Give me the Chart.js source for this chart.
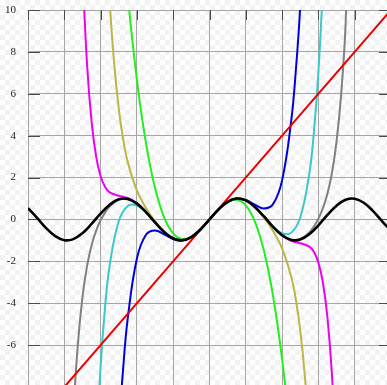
<!DOCTYPE html>
<html>
<head>
<meta charset="utf-8">
<script src="https://cdn.jsdelivr.net/npm/chart.js@4/dist/chart.umd.min.js"></script>
<style>
html,body{margin:0;padding:0;overflow:hidden;width:387px;height:385px;}
body{background-color:#fff;background-image:
 linear-gradient(45deg,#f2f2f2 25%,transparent 25%,transparent 75%,#f2f2f2 75%),
 linear-gradient(45deg,#f2f2f2 25%,transparent 25%,transparent 75%,#f2f2f2 75%);
 background-size:10px 10px;background-position:0 0,5px 5px;}
canvas{display:block;}
</style>
</head>
<body>
<canvas id="c" width="391" height="387"></canvas>
<script>
// tick labels on the y axis
const yTickValues = [10, 8, 6, 4, 2, 0, -2, -4, -6];

// black curve
const sinX = [-10,-9.5,-9,-8.5,-8,-7.5,-7,-6.5,-6,-5.5,-5,-4.5,-4,-3.5,-3,-2.5,-2,-1.5,-1,-0.5,0,0.5,1,1.5,2,2.5,3,3.5,4,4.5,5,5.5,6,6.5,7,7.5,8,8.5,9,9.5,10];
const sinY = [0.544,0.075,-0.412,-0.798,-0.989,-0.938,-0.657,-0.215,0.279,0.706,0.959,0.978,0.757,0.351,-0.141,-0.598,-0.909,-0.997,-0.841,-0.479,0,0.479,0.841,0.997,0.909,0.598,0.141,-0.351,-0.757,-0.978,-0.959,-0.706,-0.279,0.215,0.657,0.938,0.989,0.798,0.412,-0.075,-0.544];

// red line
const p1X = [-10, 10];
const p1Y = [-10, 10];

// green curve
const p3X = [-5,-4.5,-4,-3.5,-3,-2.5,-2,-1.5,-1,-0.5,0,0.5,1,1.5,2,2.5,3,3.5,4,4.5,5];
const p3Y = [15.833,10.688,6.667,3.646,1.5,0.104,-0.667,-0.938,-0.833,-0.479,0,0.479,0.833,0.938,0.667,-0.104,-1.5,-3.646,-6.667,-10.688,-15.833];

// blue curve
const p5X = [-5.5,-5,-4.75,-4.5,-4,-3.5,-3,-2.5,-2,-1.5,-1,-0.5,0,0.5,1,1.5,2,2.5,3,3.5,4,4.5,4.75,5,5.5];
const p5Y = [-19.711,-10.208,-7.039,-4.69,-1.867,-0.731,-0.525,-0.71,-0.933,-1.001,-0.842,-0.479,0,0.479,0.842,1.001,0.933,0.71,0.525,0.731,1.867,4.69,7.039,10.208,19.711];

// olive curve
const p7X = [-6,-5.5,-5.25,-5,-4.75,-4.5,-4,-3.5,-3,-2.5,-2,-1.5,-1,-0.5,0,0.5,1,1.5,2,2.5,3,3.5,4,4.5,4.75,5,5.25,5.5,6];
const p7Y = [20.743,10.496,7.442,5.293,3.786,2.725,1.384,0.546,-0.091,-0.589,-0.908,-0.997,-0.841,-0.479,0,0.479,0.841,0.997,0.908,0.589,0.091,-0.546,-1.384,-2.725,-3.786,-5.293,-7.442,-10.496,-20.743];

// cyan curve
const p9X = [-6.5,-6.25,-6,-5.75,-5.5,-5,-4.5,-4,-3.5,-3,-2.5,-2,-1.5,-1,-0.5,0,0.5,1,1.5,2,2.5,3,3.5,4,4.5,5,5.5,5.75,6,6.25,6.5];
const p9Y = [-17.23,-11.219,-7.028,-4.145,-2.195,-0.09,0.639,0.662,0.328,-0.145,-0.599,-0.909,-0.998,-0.841,-0.479,0,0.479,0.841,0.998,0.909,0.599,0.145,-0.328,-0.662,-0.639,0.09,2.195,4.145,7.028,11.219,17.23];

// magenta curve
const p11X = [-7,-6.75,-6.5,-6.25,-6,-5.75,-5.5,-5,-4.5,-4,-3.5,-3,-2.5,-2,-1.5,-1,-0.5,0,0.5,1,1.5,2,2.5,3,3.5,4,4.5,5,5.5,5.75,6,6.25,6.5,6.75,7];
const p11Y = [11.843,7.459,4.693,3.021,2.061,1.546,1.295,1.133,1.023,0.767,0.353,-0.141,-0.598,-0.909,-0.997,-0.841,-0.479,0,0.479,0.841,0.997,0.909,0.598,0.141,-0.353,-0.767,-1.023,-1.133,-1.295,-1.546,-2.061,-3.021,-4.693,-7.459,-11.843];

// grey curve
const p13X = [-8,-7.5,-7.25,-7,-6.75,-6.5,-6.25,-6,-5.75,-5.5,-5,-4.5,-4,-3.5,-3,-2.5,-2,-1.5,-1,-0.5,0,0.5,1,1.5,2,2.5,3,3.5,4,4.5,5,5.5,5.75,6,6.25,6.5,6.75,7,7.25,7.5,8];
const p13Y = [-22.6,-9.35,-5.938,-3.716,-2.239,-1.244,-0.545,-0.037,0.34,0.618,0.937,0.974,0.756,0.351,-0.141,-0.598,-0.909,-0.997,-0.841,-0.479,0,0.479,0.841,0.997,0.909,0.598,0.141,-0.351,-0.756,-0.974,-0.937,-0.618,-0.34,0.037,0.545,1.244,2.239,3.716,5.938,9.35,22.6];

function pts(xs, ys) { return xs.map((x, i) => ({x: x, y: ys[i]})); }
function ds(xs, ys, color, width) {
  return { data: pts(xs, ys), borderColor: color, borderWidth: width, pointRadius: 0,
           fill: false, tension: 0.4 };
}

const axisDecor = {
  id: 'axisDecor',
  beforeDatasetsDraw(chart) {
    const ctx = chart.ctx, a = chart.chartArea;
    const xs = chart.scales.x, ys = chart.scales.y;
    ctx.save();
    ctx.strokeStyle = '#4a4a4a';
    ctx.lineWidth = 1;
    ctx.beginPath();
    ys.ticks.forEach(t => {
      const y = Math.round(ys.getPixelForValue(t.value)) + 0.5;
      ctx.moveTo(a.left, y); ctx.lineTo(a.left + 12, y);
      ctx.moveTo(a.right - 12, y); ctx.lineTo(a.right, y);
    });
    xs.ticks.forEach(t => {
      const x = Math.round(xs.getPixelForValue(t.value)) + 0.5;
      ctx.moveTo(x, a.top); ctx.lineTo(x, a.top + 10);
    });
    ctx.stroke();
    ctx.fillStyle = '#222';
    ctx.font = '11px "Liberation Serif"';
    ctx.textAlign = 'right';
    ctx.textBaseline = 'middle';
    yTickValues.forEach(v => {
      ctx.fillText(String(v), a.left - 12, ys.getPixelForValue(v));
    });
    ctx.restore();
  }
};

new Chart(document.getElementById('c'), {
  type: 'line',
  data: {
    datasets: [
      ds(sinX, sinY, '#000000', 2.6),
      ds(p1X, p1Y, '#ee0000', 2),
      ds(p3X, p3Y, '#22ee22', 2),
      ds(p5X, p5Y, '#0000dd', 2),
      ds(p7X, p7Y, '#bcb548', 2),
      ds(p9X, p9Y, '#3cc8c8', 2),
      ds(p11X, p11Y, '#ee00ee', 2),
      ds(p13X, p13Y, '#808080', 2)
    ]
  },
  options: {
    responsive: false,
    animation: false,
    events: [],
    layout: { padding: { top: 10, right: 0, bottom: 0, left: 28 } },
    plugins: { legend: { display: false }, tooltip: { enabled: false } },
    scales: {
      x: {
        type: 'linear', min: -10, max: 10,
        ticks: { display: false, stepSize: 2 },
        grid: { color: '#a6a6a6', lineWidth: 1, drawTicks: false },
        border: { display: false }
      },
      y: {
        type: 'linear', min: -8, max: 10,
        ticks: { display: false, stepSize: 2 },
        grid: { color: '#a6a6a6', lineWidth: 1, drawTicks: false },
        border: { display: false }
      }
    }
  },
  plugins: [axisDecor]
});
</script>
</body>
</html>
